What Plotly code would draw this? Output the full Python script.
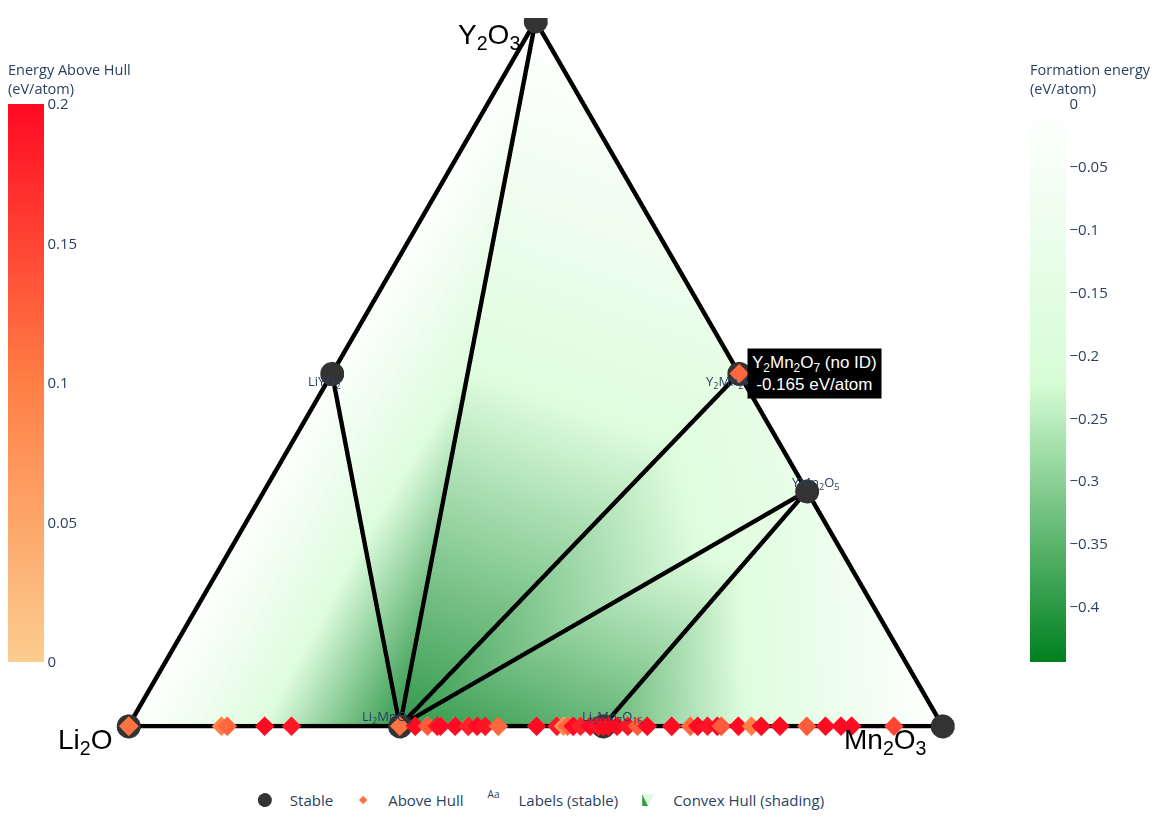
import numpy as np
import plotly.graph_objects as go

# stable phases: composition as fraction of Y2O3 and Mn2O3 (rest is Li2O)
stable_names = ["Li2O", "Y2O3", "Mn2O3", "LiYO2", "Li2MnO3", "Li5Mn7O16", "Y2Mn2O7", "YMn2O5"]
stable_y2o3 = [0.0, 1.0, 0.0, 0.5, 0.0, 0.0, 0.5, 0.3333]
stable_mn2o3 = [0.0, 0.0, 1.0, 0.0, 0.3333, 0.583, 0.5, 0.6667]
stable_form_energy = [0.0, 0.0, 0.0, -0.02, -0.444, -0.38, -0.165, -0.14]

# hull facets (indices into the stable lists)
facets = [(0, 3, 4), (3, 1, 4), (1, 4, 6), (4, 6, 7), (4, 7, 5), (5, 7, 2)]

# labelled stable phases (terminals get the big corner labels instead)
label_index = [3, 4, 5, 6, 7]
label_text = [
    "LiYO<sub>2</sub>",
    "Li<sub>2</sub>MnO<sub>3</sub>",
    "Li<sub>5</sub>Mn<sub>7</sub>O<sub>16</sub>",
    "Y<sub>2</sub>Mn<sub>2</sub>O<sub>7</sub>",
    "YMn<sub>2</sub>O<sub>5</sub>",
]
# pixel nudges for the labels
label_xshift = [-8, -13, 9, -7, 9]
label_yshift = [-8, 9, 9, -8, 8]

corner_text = ["Li<sub>2</sub>O", "Y<sub>2</sub>O<sub>3</sub>", "Mn<sub>2</sub>O<sub>3</sub>"]

# unstable entries
unstable_y2o3 = [0.0] * 44 + [1.0, 0.5]
unstable_mn2o3 = [
    0.0, 0.114, 0.121, 0.167, 0.200, 0.333, 0.352, 0.367, 0.379, 0.383,
    0.401, 0.417, 0.428, 0.438, 0.454, 0.501, 0.526, 0.534, 0.539, 0.546,
    0.555, 0.567, 0.577, 0.583, 0.589, 0.600, 0.613, 0.625, 0.637, 0.667,
    0.690, 0.699, 0.711, 0.723, 0.728, 0.749, 0.765, 0.777, 0.800, 0.833,
    0.856, 0.875, 0.888, 0.940, 1.0, 0.5,
]
unstable_e_hull = [
    0.11, 0.10, 0.12, 0.20, 0.19, 0.11, 0.20, 0.13, 0.19, 0.20,
    0.20, 0.18, 0.20, 0.19, 0.12, 0.20, 0.19, 0.08, 0.12, 0.20,
    0.18, 0.20, 0.19, 0.20, 0.20, 0.20, 0.19, 0.13, 0.20, 0.20,
    0.12, 0.20, 0.19, 0.20, 0.13, 0.20, 0.10, 0.20, 0.20, 0.13,
    0.20, 0.20, 0.20, 0.15, 0.20, 0.12,
]

hover_text = "Y<sub>2</sub>Mn<sub>2</sub>O<sub>7</sub> (no ID)<br>-0.165 eV/atom"

stable_colorscale = [[0.0, "#00801f"], [0.5, "#d6fcd6"], [1.0, "#ffffff"]]
unstable_colorscale = [[0.0, "#fbcd8f"], [0.5, "#ff7f45"], [1.0, "#ff0a22"]]


def tri_xy(y2o3, mn2o3):
    y2o3 = np.asarray(y2o3, dtype=float)
    mn2o3 = np.asarray(mn2o3, dtype=float)
    return mn2o3 + 0.5 * y2o3, y2o3 * np.sqrt(3) / 2


sx, sy = tri_xy(stable_y2o3, stable_mn2o3)
ux, uy = tri_xy(unstable_y2o3, unstable_mn2o3)

# unique hull edges
edges = []
for f in facets:
    for a, b in [(f[0], f[1]), (f[1], f[2]), (f[0], f[2])]:
        e = tuple(sorted((a, b)))
        if e not in edges:
            edges.append(e)
line_x, line_y, line_z = [], [], []
for a, b in edges:
    line_x += [sx[a], sx[b], None]
    line_y += [sy[a], sy[b], None]
    line_z += [0.01, 0.01, None]

go_lines = go.Scatter3d(
    x=line_x, y=line_y, z=line_z, mode="lines",
    line=dict(color="black", width=9), showlegend=False, hoverinfo="skip",
)

go_stable = go.Scatter3d(
    x=sx, y=sy, z=[0.02] * len(sx), mode="markers", name="Stable",
    marker=dict(size=14, color="#333333"), hoverinfo="skip",
)

go_unstable = go.Scatter3d(
    x=ux, y=uy, z=[0.03] * len(ux), mode="markers", name="Above Hull",
    marker=dict(
        size=6.5, symbol="diamond", color=unstable_e_hull, colorscale=unstable_colorscale,
        cmin=0, cmax=0.2,
        colorbar=dict(
            title=dict(text="Energy Above Hull<br>(eV/atom)", side="top", font=dict(size=14.5)),
            tickfont=dict(size=15),
            x=0.0, xanchor="left", xpad=0, y=0.9568, yanchor="top",
            lenmode="pixels", len=621, thickness=36, outlinewidth=0,
        ),
    ),
    hoverinfo="skip",
)

# legend entry for the labels; the label text itself is drawn as scene annotations on top
go_labels = go.Scatter3d(
    x=[sx[i] for i in label_index], y=[sy[i] for i in label_index],
    z=[0.0] * len(label_index),
    mode="text", text=[""] * len(label_index), name="Labels (stable)",
    textfont=dict(size=13, color="#2a3f5f"), hoverinfo="skip",
)

go_hull = go.Mesh3d(
    x=sx, y=sy, z=stable_form_energy,
    i=[f[0] for f in facets], j=[f[1] for f in facets], k=[f[2] for f in facets],
    intensity=stable_form_energy, colorscale=stable_colorscale, opacity=0.8,
    cmin=min(stable_form_energy), cmax=0,
    lighting=dict(ambient=1.0, diffuse=0.0, specular=0.0, roughness=1.0, fresnel=0.0),
    flatshading=True, name="Convex Hull (shading)", showlegend=True, hoverinfo="skip",
    colorbar=dict(
        title=dict(text="Formation energy<br>(eV/atom)", side="top", font=dict(size=14.5)),
        tickfont=dict(size=15),
        x=0.8717, xanchor="left", y=0.9568, yanchor="top",
        lenmode="pixels", len=621, thickness=36, outlinewidth=0,
    ),
)

fig = go.Figure(data=[go_lines, go_stable, go_unstable, go_labels, go_hull])

scene_ann = []
for i, t, dx, dy in zip(label_index, label_text, label_xshift, label_yshift):
    scene_ann.append(dict(
        x=sx[i], y=sy[i], z=0.02, text=t, showarrow=False,
        xshift=dx, yshift=dy, font=dict(size=13, color="#2a3f5f"),
    ))
for t, i in zip(corner_text, [0, 1, 2]):
    scene_ann.append(dict(
        x=sx[i], y=sy[i], z=0.02, text=t, showarrow=False,
        xanchor="right", yanchor="top", xshift=-14, yshift=4,
        font=dict(size=28, color="black", family="Arial"),
    ))
scene_ann.append(dict(
    x=sx[6], y=sy[6], z=0.02, text=hover_text, showarrow=False,
    xanchor="left", yanchor="middle", xshift=8, bgcolor="black", borderpad=4,
    font=dict(size=17, color="white", family="Arial"),
))

fig.update_layout(
    width=1161, height=827,
    margin=dict(l=0, r=0, t=10, b=50, autoexpand=False),
    font=dict(size=15, color="#2a3f5f"),
    paper_bgcolor="white", plot_bgcolor="white",
    hovermode=False,
    showlegend=True,
    legend=dict(orientation="h", x=0.4538, xanchor="center", y=0.0015, yanchor="top", itemwidth=40),
    scene=dict(
        domain=dict(x=[0, 0.9225], y=[0.052, 1]),
        xaxis=dict(visible=False, range=[-0.02, 1.02]),
        yaxis=dict(visible=False, range=[-0.02, 0.886]),
        zaxis=dict(visible=False, range=[-0.5, 0.5]),
        aspectmode="manual", aspectratio=dict(x=2.329, y=2.029, z=0.6),
        camera=dict(
            projection=dict(type="orthographic"),
            up=dict(x=0, y=1, z=0),
            eye=dict(x=0.022, y=-0.022, z=1.2),
            center=dict(x=0.022, y=-0.022, z=0),
        ),
        annotations=scene_ann,
    ),
)

fig.write_html("out.html")
